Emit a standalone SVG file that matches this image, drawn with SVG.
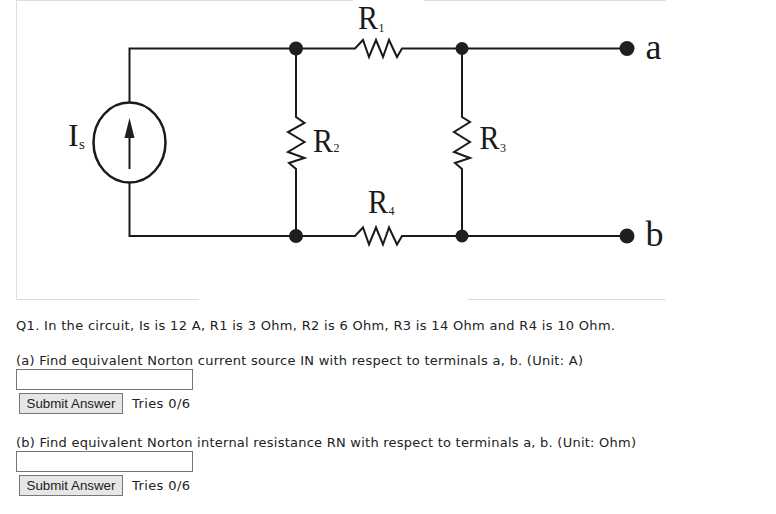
<svg xmlns="http://www.w3.org/2000/svg" width="776" height="514" viewBox="0 0 776 514">
<style>
.w{fill:none;stroke:#1a1a1a;stroke-width:2;stroke-linejoin:miter}
.n{fill:#1f1f1f}
.b{fill:none;stroke:#dedede;stroke-width:1}
.l{font-family:"Liberation Serif","Times New Roman",serif;fill:#1a1a1a}
.big{font-size:36px}
.r{font-size:33px}
.sub{font-size:12px}
.t{font-family:"DejaVu Sans",Verdana,sans-serif;font-size:13px;fill:#222}
.btn{fill:#e6e6e6;stroke:#777;stroke-width:1}
.bt{font-family:"Liberation Sans",Arial,sans-serif;font-size:13.330px;fill:#222;text-anchor:middle}
.inp{fill:#fff;stroke:#767676;stroke-width:1}
</style>
<rect width="776" height="514" fill="#fff"/>
<g id="frame">
<path class="b" d="M16.500 0V299.500H199M468 299.500H666M16 .5H353M424 .5H666"/>
</g>
<g id="connectors">
<path class="w" d="M129.500 102V48.500H296"/>
<path class="w" d="M129.500 183V236H296"/>
<path class="w" d="M296 48.500H355L363 40L369 57L376 40L383 57L389 40L397 57L402 48.500H462"/>
<path class="w" d="M296 236H355L363 227.500L369 244.500L376 227.500L383 244.500L389 227.500L397 244.500L402 236H462"/>
<path class="w" d="M462 48.500H627"/>
<path class="w" d="M462 236H627"/>
<path class="w" d="M296 48.500V117L304.500 123L288 132L304.500 142L288 152L304.500 158L289 163L296 169V236"/>
<path class="w" d="M462 48.500V117L470 122L454 132L470 142L454 152L470 158L455 163L462 169V236"/>
</g>
<g id="source">
<ellipse cx="129.500" cy="142.500" rx="36" ry="40" fill="none" stroke="#1a1a1a" stroke-width="2.500"/>
<path d="M129.500 169V135" stroke="#1a1a1a" stroke-width="2" fill="none"/>
<path class="n" d="M129.500 118L134.500 138H124.500Z"/>
<text class="l" x="68" y="146" font-size="32">I</text>
<text class="l" x="79" y="149" font-size="15">s</text>
</g>
<g id="node-top-left"><circle class="n" cx="296" cy="48.500" r="7"/></g>
<g id="node-bottom-left"><circle class="n" cx="296" cy="236" r="7"/></g>
<g id="node-top-right"><circle class="n" cx="462" cy="48.500" r="6.500"/></g>
<g id="node-bottom-right"><circle class="n" cx="462" cy="236" r="6.500"/></g>
<g id="terminal-a"><circle class="n" cx="627" cy="48.500" r="7.500"/><text class="l big" x="645.500" y="58.500">a</text></g>
<g id="terminal-b"><circle class="n" cx="627" cy="236" r="7.500"/><text class="l big" x="645.500" y="246">b</text></g>
<g id="R1"><text class="l r" x="358" y="29" textLength="20" lengthAdjust="spacingAndGlyphs">R</text><text class="l sub" x="378.500" y="32">1</text></g>
<g id="R2"><text class="l r" x="313" y="152" textLength="20" lengthAdjust="spacingAndGlyphs">R</text><text class="l sub" x="333.500" y="152">2</text></g>
<g id="R3"><text class="l r" x="479.500" y="149" textLength="20" lengthAdjust="spacingAndGlyphs">R</text><text class="l sub" x="500" y="152">3</text></g>
<g id="R4"><text class="l r" x="368" y="213" textLength="20" lengthAdjust="spacingAndGlyphs">R</text><text class="l sub" x="388.500" y="215">4</text></g>
<g id="question">
<text class="t" x="16" y="330" textLength="599">Q1. In the circuit, Is is 12 A, R1 is 3 Ohm, R2 is 6 Ohm, R3 is 14 Ohm and R4 is 10 Ohm.</text>
<text class="t" x="16" y="365" textLength="567">(a) Find equivalent Norton current source IN with respect to terminals a, b. (Unit: A)</text>
<rect class="inp" x="16.500" y="369.500" width="176" height="20"/>
<rect class="btn" x="19.500" y="393.500" width="103" height="20"/>
<text class="bt" x="71" y="408">Submit Answer</text>
<text class="t" x="132" y="408" textLength="58">Tries 0/6</text>
<text class="t" x="16" y="447" textLength="620">(b) Find equivalent Norton internal resistance RN with respect to terminals a, b. (Unit: Ohm)</text>
<rect class="inp" x="16.500" y="451.500" width="176" height="20"/>
<rect class="btn" x="19.500" y="475.500" width="103" height="20"/>
<text class="bt" x="71" y="490">Submit Answer</text>
<text class="t" x="132" y="490" textLength="58">Tries 0/6</text>
</g>
</svg>
